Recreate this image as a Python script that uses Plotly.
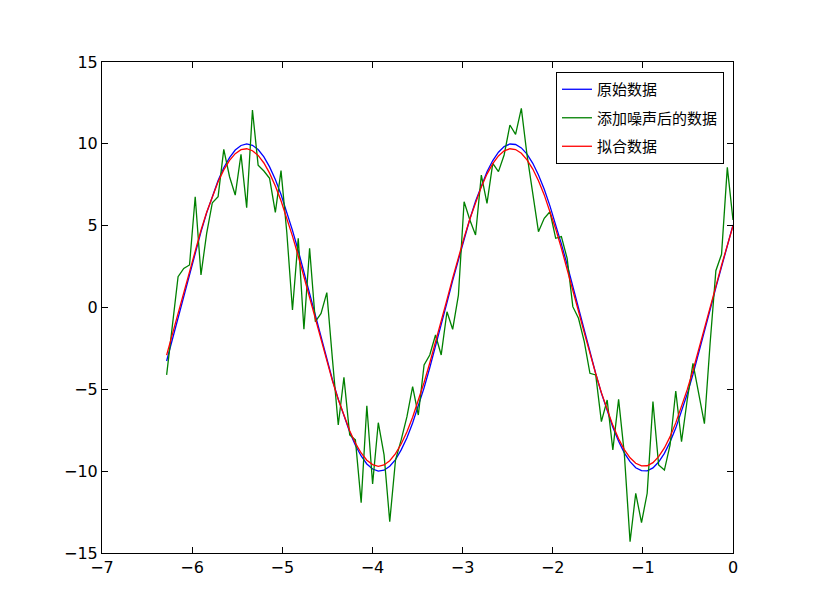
import plotly.graph_objects as go

# x sample positions (100 evenly spaced points from -2π to 0)
x_vals = [-6.283, -6.220, -6.156, -6.093, -6.029, -5.966, -5.902, -5.839, -5.776, -5.712,
          -5.649, -5.585, -5.522, -5.458, -5.395, -5.331, -5.268, -5.204, -5.141, -5.077,
          -5.014, -4.950, -4.887, -4.823, -4.760, -4.697, -4.633, -4.570, -4.506, -4.443,
          -4.379, -4.316, -4.252, -4.189, -4.125, -4.062, -3.998, -3.935, -3.871, -3.808,
          -3.744, -3.681, -3.617, -3.554, -3.491, -3.427, -3.364, -3.300, -3.237, -3.173,
          -3.110, -3.046, -2.983, -2.919, -2.856, -2.792, -2.729, -2.665, -2.602, -2.539,
          -2.475, -2.412, -2.348, -2.285, -2.221, -2.158, -2.094, -2.031, -1.967, -1.904,
          -1.840, -1.777, -1.714, -1.650, -1.587, -1.523, -1.460, -1.396, -1.333, -1.269,
          -1.206, -1.142, -1.079, -1.015, -0.952, -0.888, -0.825, -0.761, -0.698, -0.635,
          -0.571, -0.508, -0.444, -0.381, -0.317, -0.254, -0.190, -0.127, -0.063, 0.000]

# original (blue) curve
y_true = [-3.27, -1.96, -0.62, 0.74, 2.08, 3.38, 4.62, 5.78, 6.83, 7.76,
          8.54, 9.16, 9.62, 9.90, 10.00, 9.91, 9.65, 9.20, 8.59, 7.82,
          6.90, 5.86, 4.71, 3.48, 2.18, 0.84, -0.52, -1.86, -3.17, -4.43,
          -5.60, -6.67, -7.61, -8.42, -9.07, -9.56, -9.87, -10.00, -9.94, -9.70,
          -9.29, -8.70, -7.96, -7.06, -6.04, -4.91, -3.68, -2.39, -1.06, 0.30,
          1.65, 2.96, 4.23, 5.41, 6.50, 7.47, 8.30, 8.98, 9.49, 9.83,
          9.99, 9.96, 9.75, 9.37, 8.81, 8.09, 7.22, 6.21, 5.10, 3.89,
          2.61, 1.28, -0.08, -1.43, -2.75, -4.03, -5.23, -6.33, -7.32, -8.17,
          -8.88, -9.42, -9.79, -9.97, -9.98, -9.80, -9.44, -8.91, -8.21, -7.37,
          -6.39, -5.29, -4.09, -2.82, -1.50, -0.14, 1.21, 2.54, 3.82, 5.04]

# noisy (green) data
y_noisy = [-4.12, -1.10, 1.88, 2.39, 2.60, 6.77, 1.99, 4.53, 6.40, 6.77,
           9.66, 7.99, 6.87, 9.36, 6.10, 12.06, 8.70, 8.34, 7.89, 5.81,
           8.36, 4.60, -0.15, 4.23, -1.33, 3.61, -0.87, -0.36, 0.91, -3.20,
           -7.18, -4.27, -7.79, -8.09, -11.92, -6.00, -10.78, -7.04, -9.01, -13.08,
           -9.32, -8.09, -6.67, -4.84, -6.57, -3.51, -2.90, -1.68, -2.90, -0.26,
           -1.33, 0.76, 6.46, 5.35, 4.43, 8.09, 6.36, 8.81, 8.30, 9.32,
           11.15, 10.58, 12.17, 9.32, 7.00, 4.63, 5.45, 5.85, 4.23, 4.33,
           3.00, 0.05, -0.66, -2.09, -4.02, -4.12, -6.97, -5.65, -8.70, -5.61,
           -8.91, -14.31, -11.35, -13.14, -11.35, -5.75, -9.62, -9.93, -8.40, -5.10,
           -8.20, -5.65, -3.41, -5.30, -7.10, -2.20, 2.25, 3.25, 8.56, 5.35]

# fitted (red) curve
y_fit = [-2.91, -1.64, -0.33, 0.98, 2.28, 3.53, 4.72, 5.82, 6.81, 7.68,
         8.41, 8.99, 9.40, 9.64, 9.70, 9.58, 9.29, 8.83, 8.21, 7.43,
         6.52, 5.49, 4.36, 3.15, 1.88, 0.58, -0.73, -2.03, -3.30, -4.50,
         -5.62, -6.63, -7.53, -8.29, -8.89, -9.33, -9.60, -9.70, -9.62, -9.36,
         -8.93, -8.34, -7.59, -6.70, -5.69, -4.58, -3.39, -2.13, -0.83, 0.48,
         1.79, 3.06, 4.27, 5.41, 6.45, 7.37, 8.15, 8.79, 9.26, 9.57,
         9.70, 9.65, 9.42, 9.02, 8.46, 7.74, 6.88, 5.89, 4.80, 3.62,
         2.37, 1.08, -0.23, -1.54, -2.82, -4.05, -5.20, -6.26, -7.20, -8.02,
         -8.68, -9.18, -9.52, -9.68, -9.67, -9.48, -9.11, -8.58, -7.89, -7.05,
         -6.09, -5.02, -3.85, -2.61, -1.32, -0.02, 1.29, 2.58, 3.82, 4.99]

labels = ["原始数据", "添加噪声后的数据", "拟合数据"]
x_ticks = [-7, -6, -5, -4, -3, -2, -1, 0]
y_ticks = [-15, -10, -5, 0, 5, 10, 15]

fig = go.Figure()
fig.add_trace(go.Scatter(x=x_vals, y=y_true, mode="lines", name=labels[0], legendgroup="a",
                         line=dict(color="#0000ff", width=1.3)))
fig.add_trace(go.Scatter(x=x_vals, y=y_noisy, mode="lines", name=labels[1], legendgroup="b",
                         line=dict(color="#008000", width=1.3)))
fig.add_trace(go.Scatter(x=x_vals, y=y_fit, mode="lines", name=labels[2], legendgroup="c",
                         line=dict(color="#ff0000", width=1.3)))

axis_common = dict(showgrid=False, zeroline=False, showline=True, mirror="allticks",
                   linecolor="black", linewidth=1, ticks="inside", ticklen=6,
                   tickcolor="black", tickwidth=1,
                   tickfont=dict(family="DejaVu Sans", size=16, color="black"))

fig.update_layout(
    width=815, height=615,
    margin=dict(l=94, r=90, t=54, b=70),
    paper_bgcolor="white", plot_bgcolor="white",
    font=dict(family="DejaVu Sans, Noto Sans CJK SC", size=16, color="black"),
    xaxis=dict(range=[-7, 0], tickvals=x_ticks, **axis_common),
    yaxis=dict(range=[-15, 15], tickvals=y_ticks, **axis_common),
    legend=dict(x=0.9857, y=0.9796, xanchor="right", yanchor="top",
                bordercolor="black", borderwidth=1, bgcolor="white",
                font=dict(family="DejaVu Sans, Noto Sans CJK SC", size=15),
                tracegroupgap=6),
    showlegend=True,
)

fig.write_html("out.html")
